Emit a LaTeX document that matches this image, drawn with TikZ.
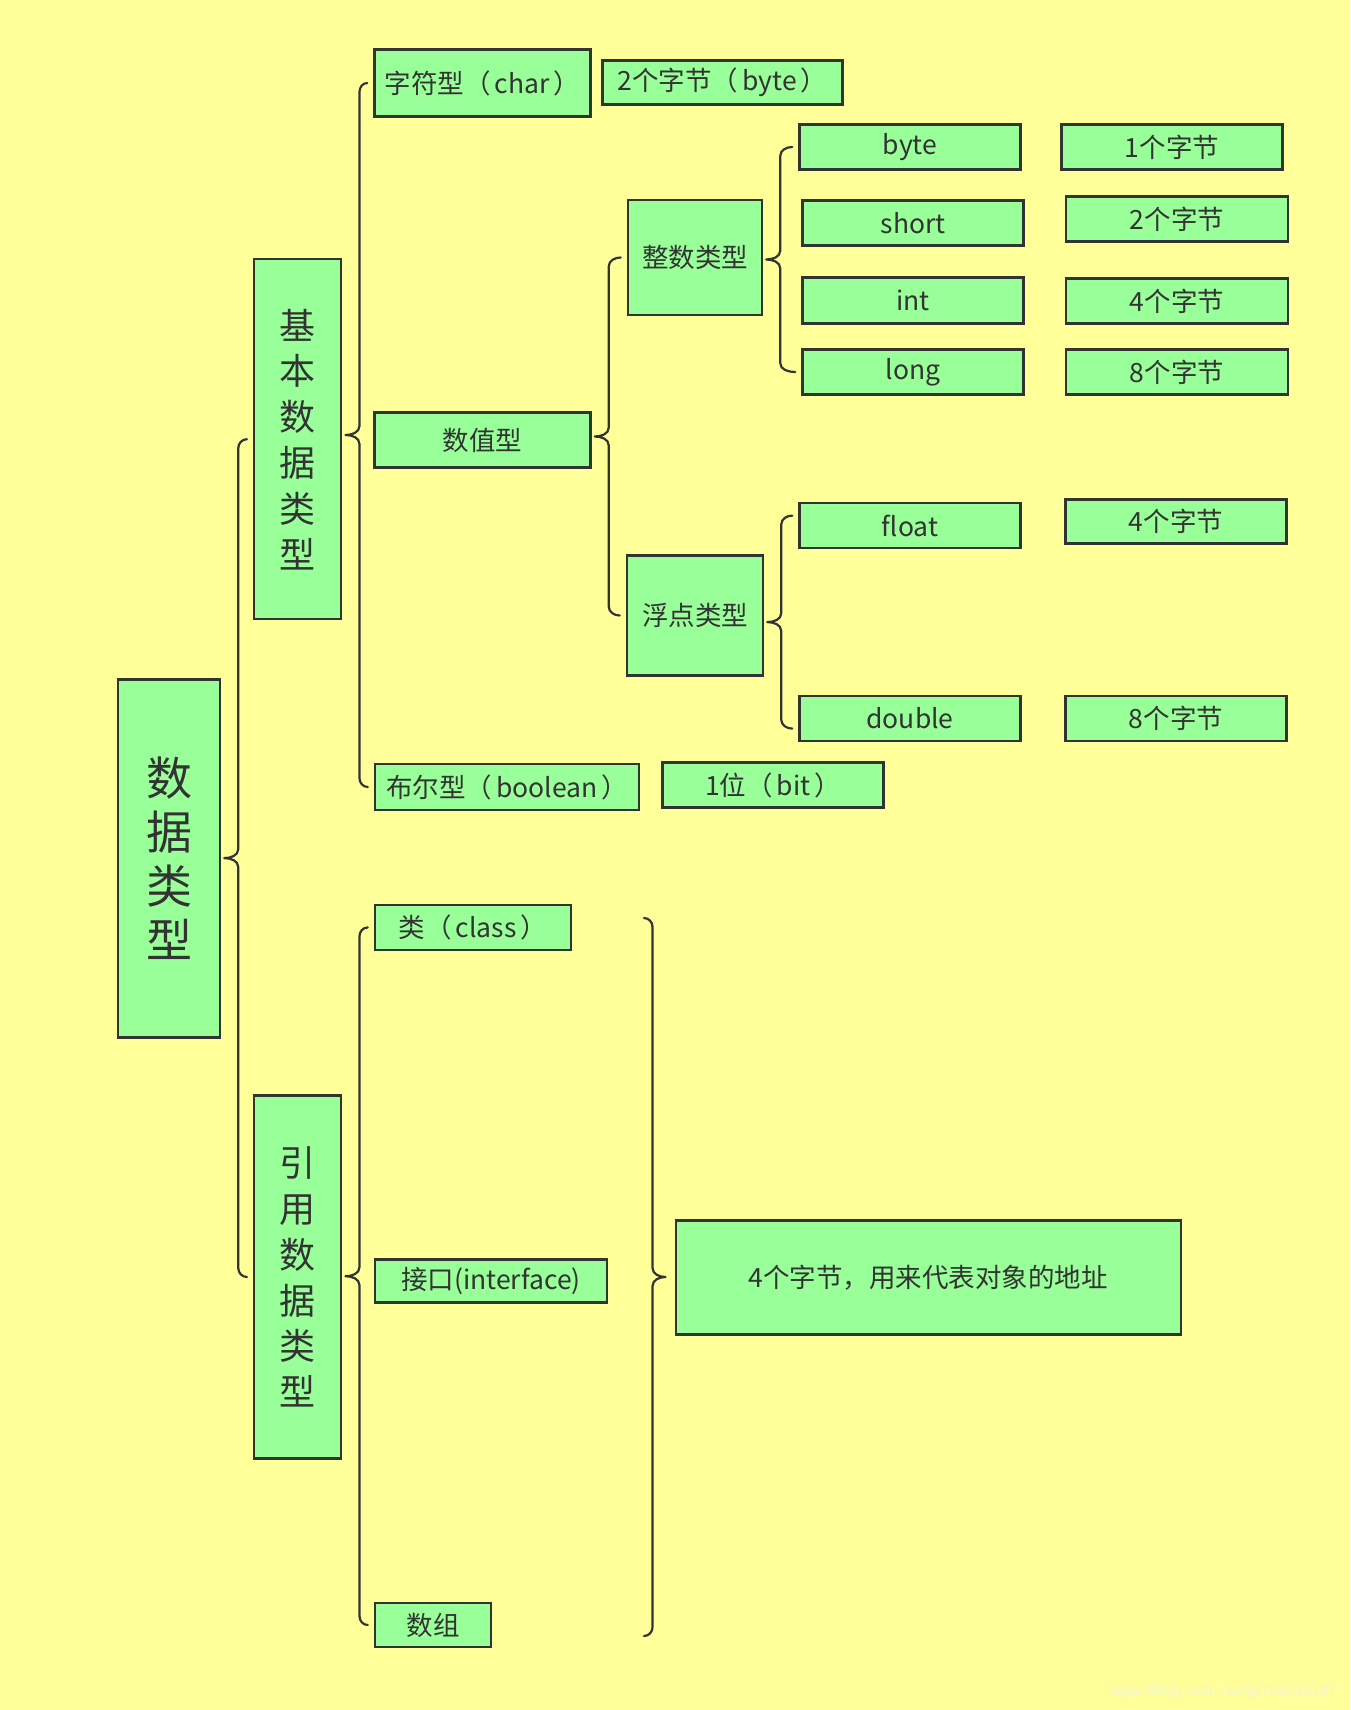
\documentclass[tikz,border=0pt]{standalone}
\usepackage{fontspec}
\setmainfont{Noto Sans CJK SC}
\newfontfamily\markfont{Liberation Sans}
\usetikzlibrary{calc}
\definecolor{bgyellow}{HTML}{FFFF99}
\definecolor{boxgreen}{HTML}{99FF99}
\definecolor{inkgray}{HTML}{333333}
\definecolor{markgray}{HTML}{F4F4D4}
\tikzset{
  typebox/.style={draw=inkgray, fill=boxgreen, line width=2.5pt, inner sep=0pt,
    text=inkgray, font=\fontsize{26.5}{30}\selectfont},
  boxsize/.style 2 args={minimum width=#1pt, minimum height=#2pt},
  bracestyle/.style={draw=inkgray, line width=2.2pt, line cap=round, line join=round},
}
\newcommand{\pgap}{\hspace{.15em}}
% curly brace from a parent to the first and last of its children
\newcommand{\bracelink}[4][0pt]{%
  \draw[bracestyle] let \p1=(#2.east), \p2=(#3.west), \p3=(#4.west),
      \p4=($(#3.west)!.5!(#4.west)$) in
    ({\x2-6pt},{\y2+#1}) to[out=180,in=90] ({\x1+17pt},{\y2+#1-9pt})
    -- ({\x1+17pt},{\y4+9pt}) to[out=-90,in=0] ({\x1+3pt},\y4)
    to[out=0,in=90] ({\x1+17pt},{\y4-9pt})
    -- ({\x1+17pt},{\y3-#1+9pt}) to[out=-90,in=180] ({\x3-6pt},{\y3-#1});}
\begin{document}
\begin{tikzpicture}[x=1pt,y=-1pt]
\useasboundingbox[fill=bgyellow] (0,0) rectangle (1350,1710);
% left column
\node[typebox, boxsize={102}{358}, font=\fontsize{46}{54}\selectfont, align=center] (root) at (169,858.5) {数\\据\\类\\型};
\node[typebox, boxsize={87}{360}, font=\fontsize{36}{45.8}\selectfont, align=center] (basic) at (297.7,439.2) {基\\本\\数\\据\\类\\型};
\node[typebox, boxsize={87}{363}, font=\fontsize{36}{45.8}\selectfont, align=center] (ref) at (297.7,1277) {引\\用\\数\\据\\类\\型};
% basic types
\node[typebox, boxsize={216}{67}] (char) at (482.5,83) {字符型（\pgap char\pgap）};
\node[typebox, boxsize={240}{44}] (charsize) at (722.5,82.5) {2个字节（\pgap byte\pgap）};
\node[typebox, boxsize={216}{55}] (num) at (482.5,440) {数值型};
\node[typebox, boxsize={264}{46}] (bool) at (507,787) {布尔型（\pgap boolean\pgap）};
\node[typebox, boxsize={221}{45}] (boolsize) at (773,785) {1位（\pgap bit\pgap）};
\node[typebox, boxsize={134}{115}] (intgrp) at (695,257.5) {整数类型};
\node[typebox, boxsize={136}{120}] (floatgrp) at (695,615.5) {浮点类型};
% integer types
\node[typebox, boxsize={221}{45}] (byte) at (910,147) {byte};
\node[typebox, boxsize={221}{45}] (short) at (913,223) {short};
\node[typebox, boxsize={221}{46}] (int) at (913,300.5) {int};
\node[typebox, boxsize={221}{45}] (long) at (913,372) {long};
\node[typebox, boxsize={221}{45}] (bytesize) at (1172,147) {1个字节};
\node[typebox, boxsize={222}{45}] (shortsize) at (1177,219) {2个字节};
\node[typebox, boxsize={222}{45}] (intsize) at (1177,301) {4个字节};
\node[typebox, boxsize={222}{45}] (longsize) at (1177,372) {8个字节};
% floating types
\node[typebox, boxsize={221}{45}] (float) at (910,525.6) {float};
\node[typebox, boxsize={221}{44}] (floatsize) at (1176,521.5) {4个字节};
\node[typebox, boxsize={221}{45}] (double) at (910,718.6) {double};
\node[typebox, boxsize={221}{45}] (doublesize) at (1176,718.6) {8个字节};
% reference types
\node[typebox, boxsize={196}{45}] (class) at (473,927.4) {类（\pgap class\pgap）};
\node[typebox, boxsize={232}{43}] (iface) at (491,1281) {接口(interface)};
\node[typebox, boxsize={116}{44}] (array) at (433,1625) {数组};
\node[typebox, boxsize={505}{114}] (addr) at (928.3,1277.4) {4个字节，用来代表对象的地址};
% braces
\bracelink{root}{basic}{ref}
\bracelink{basic}{char}{bool}
\bracelink{ref}{class}{array}
\bracelink{num}{intgrp}{floatgrp}
\bracelink{intgrp}{byte}{long}
\bracelink[10pt]{floatgrp}{float}{double}
\coordinate (grptop) at (644,918);
\coordinate (grpbot) at (644,1636);
\draw[bracestyle] let \p1=(addr.west), \p2=(grptop), \p3=(grpbot),
    \p4=($(grptop)!.5!(grpbot)$) in
  (\x2,\y2) to[out=0,in=90] ({\x1-22pt},{\y2-9pt})
  -- ({\x1-22pt},{\y4+9pt}) to[out=-90,in=180] ({\x1-9pt},\y4)
  to[out=180,in=90] ({\x1-22pt},{\y4-9pt})
  -- ({\x1-22pt},{\y3+9pt}) to[out=-90,in=0] (\x3,\y3);
% watermark
\node[font=\markfont\fontsize{15}{18}\selectfont, text=markgray, anchor=east] (wmark) at (1340,1692) {https://blog.csdn.net/lgl782519197};
\end{tikzpicture}
\end{document}
